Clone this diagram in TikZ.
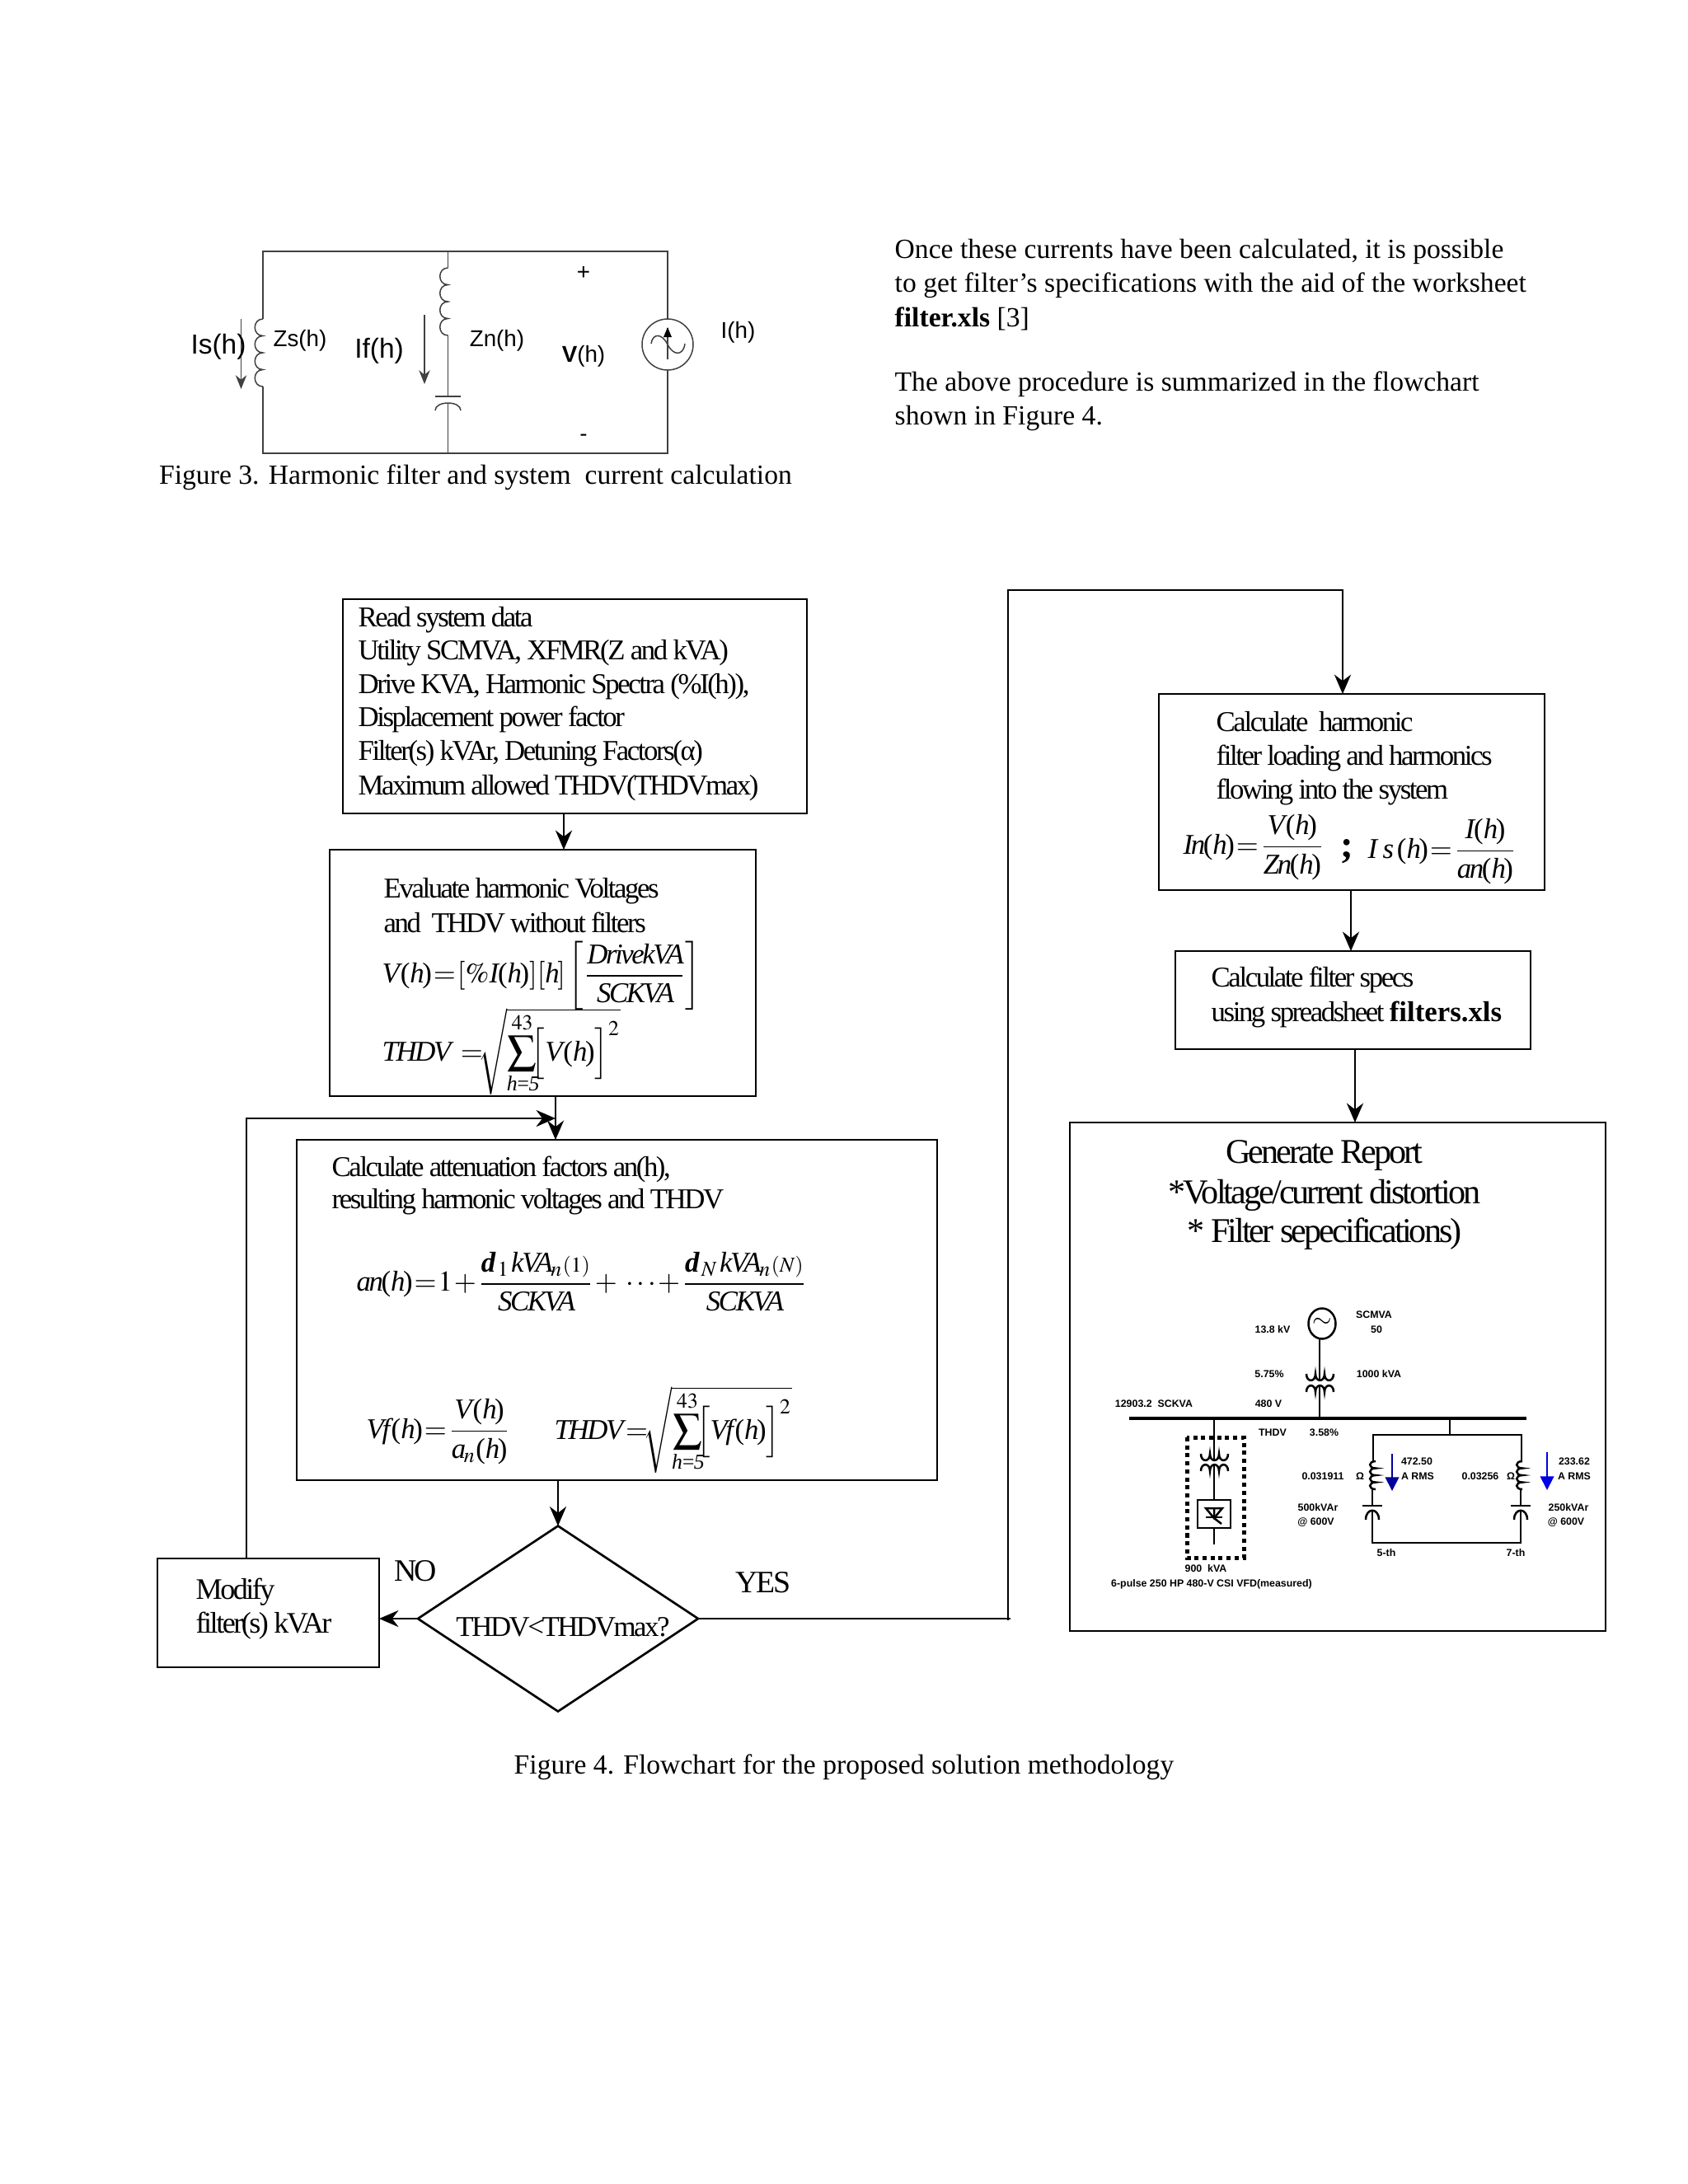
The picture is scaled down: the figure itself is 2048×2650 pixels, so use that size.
\documentclass[tikz,border=0pt]{standalone}
\usepackage{amsmath}
\usepackage{mathptmx}
\usepackage{fontspec}
\setmainfont{Liberation Serif}
\setsansfont{Liberation Sans}
\newfontfamily\flowfont[LetterSpace=-7]{Liberation Serif}
\usetikzlibrary{shapes.geometric, arrows.meta}
\newcommand{\px}{0.2988pt}
\newcommand{\mi}[1]{\text{\flowfont\textit{#1}}}
\newcommand{\hpar}{\text{\flowfont(\textit{h})}}
\tikzset{
  wire/.style={line width=0.45pt, black!75},
  flow/.style={line width=0.8pt, -{Stealth[length=7pt,width=6pt]}},
  inset/.style={line width=0.75pt},
  flowbox/.style={draw, line width=0.8pt, inner sep=0pt, outer sep=0pt},
  body/.style={font=\fontsize{10.05}{12.1}\selectfont, align=left, anchor=west, inner sep=0pt, yshift=-1pt},
  flowtext/.style={font=\fontsize{10.4}{12.1}\selectfont\flowfont, align=left, anchor=west, inner sep=0pt, yshift=-1pt},
  reporttext/.style={font=\fontsize{12.6}{14}\selectfont\flowfont, inner sep=0pt, yshift=-1pt},
  flowmath/.style={font=\fontsize{10.4}{12.1}\selectfont, anchor=west, inner sep=0pt, execute at begin node={\thickmuskip=1mu\medmuskip=1mu}},
  circlabel/.style={font=\fontsize{8.3}{10}\selectfont\sffamily, inner sep=0pt},
  biglabel/.style={font=\fontsize{10}{12}\selectfont\sffamily, inner sep=0pt, yshift=-0.8pt},
  lbl/.style={font=\fontsize{3.7}{4.5}\selectfont\sffamily\bfseries, inner sep=0pt},
  coilv/.pic={\draw (0,0) .. controls (-13,0) and (-13,20.5) .. (0,20.5)
    .. controls (-13,20.5) and (-13,41) .. (0,41)
    .. controls (-13,41) and (-13,61.5) .. (0,61.5)
    .. controls (-13,61.5) and (-13,82) .. (0,82);},
  coilh/.pic={\draw (0,0) .. controls (0,10.5) and (11,10.5) .. (11,0)
    .. controls (11,10.5) and (22,10.5) .. (22,0)
    .. controls (22,10.5) and (33,10.5) .. (33,0);}
}
\begin{document}
\begin{tikzpicture}[x=0.2988pt, y=-0.2988pt]
  \useasboundingbox (0,0) rectangle (2048,2650);
  % Figure 3 - circuit frame
  \draw[wire] (319,387) -- (319,305) -- (810,305) -- (810,387);
  \draw[wire] (810,449) -- (810,550) -- (319,550) -- (319,469);
  % filter branch
  \draw[wire] (543.5,305) -- (543.5,325);
  \pic[wire] at (543.5,325) {coilv};
  \pic[wire] at (319,387) {coilv};
  \draw[wire] (543.5,407) -- (543.5,481);
  \draw[wire] (528,481) -- (559,481);
  \draw[wire] (528,498) .. controls (528,486) and (559,486) .. (559,498);
  \draw[wire] (543.5,489) -- (543.5,550);
  % current source
  \node[draw, circle, wire, minimum size=62*\px, inner sep=0pt] (source) at (810,418) {};
  \draw[wire] (810,436) -- (810,398);
  \fill (810,397) -- (805,409) -- (815,409) -- cycle;
  \draw[wire] (790,417) .. controls (792,404) and (803,404) .. (810,418) .. controls (817,432) and (829,432) .. (831,417);
  % current arrows
  \coordinate (istop) at (292.5,387);
  \coordinate (isend) at (292.5,472);
  \coordinate (iftop) at (515,382);
  \coordinate (ifend) at (515,466);
  \draw[wire, -{Stealth[length=5pt,width=4pt]}] (istop) -- (isend);
  \draw[wire, -{Stealth[length=5pt,width=4pt]}] (iftop) -- (ifend);
  % circuit labels
  \node[biglabel] (islabel) at (265,418) {Is(h)};
  \node[circlabel] (zslabel) at (364,413) {Zs(h)};
  \node[biglabel] (iflabel) at (460,423) {If(h)};
  \node[circlabel] (znlabel) at (603,413) {Zn(h)};
  \node[circlabel] (vlabel) at (708,432) {\textbf{V}(h)};
  \node[circlabel] (ilabel) at (895.5,403) {I(h)};
  \node[circlabel] (plus) at (708,331) {+};
  \node[circlabel] (minus) at (708,531) {-};
  \node[body, anchor=center] (figthree) at (577,576) {Figure 3. Harmonic filter and system\ \ current calculation};
  % Text at the right
  \node[body] (textone) at (1085,302) {Once these currents have been calculated, it is possible};
  \node[body] (texttwo) at (1085,343) {to get filter's specifications with the aid of the worksheet};
  \node[body] (textthree) at (1085,384) {\textbf{filter.xls} [3]};
  \node[body] (textfour) at (1085,463) {The above procedure is summarized in the flowchart};
  \node[body] (textfive) at (1085,504) {shown in Figure 4.};
  % read data
  \node[flowbox, minimum width=563*\px, minimum height=260*\px] (readbox) at (697.5,857) {};
  \node[flowtext] (readone) at (434,749) {Read system data};
  \node[flowtext] (readtwo) at (434,789) {Utility SCMVA, XFMR(Z and kVA)};
  \node[flowtext] (readthree) at (434,830) {Drive KVA, Harmonic Spectra (\%I(h)),};
  \node[flowtext] (readfour) at (434,870) {Displacement power factor};
  \node[flowtext] (readfive) at (434,911) {Filter(s) kVAr, Detuning Factors(α)};
  \node[flowtext] (readsix) at (434,953) {Maximum allowed THDV(THDVmax)};
  % evaluate without filters
  \node[flowbox, minimum width=517*\px, minimum height=299*\px] (evalbox) at (658.5,1180.5) {};
  \node[flowtext] (evalone) at (465,1078) {Evaluate harmonic Voltages};
  \node[flowtext] (evaltwo) at (465,1116) {and\ \ THDV without filters};
  \node[flowmath] (evalv) at (463,1184) {$\mi{V}\hpar=[\%\mi{I}\hpar][\mi{h}]\left[\dfrac{\mi{DrivekVA}}{\mi{SCKVA}}\right]$};
  \node[flowmath] (evalthd) at (463,1276) {$\mi{THDV}\ =\!\!\sqrt{\displaystyle\sum_{\mi{h=5}}^{43}\!\!\Bigl[\mi{V}\hpar\Bigr]^{2}}$};
  % attenuation factors
  \node[flowbox, minimum width=777*\px, minimum height=413*\px] (attbox) at (748.5,1589.5) {};
  \node[flowtext] (attone) at (402,1416) {Calculate attenuation factors an(h),};
  \node[flowtext] (atttwo) at (402,1455) {resulting harmonic voltages and THDV};
  \node[flowmath] (attan) at (432,1555) {$\mi{an}\hpar=1+\dfrac{\textbf{\textit{d}}\;{}_{1}\;\mi{kVA}_{n}{\scriptstyle(1)}}{\mi{SCKVA}}+\ \cdots+\dfrac{\textbf{\textit{d}}\;{}_{N}\;\mi{kVA}_{n}{\scriptstyle(N)}}{\mi{SCKVA}}$};
  \node[flowmath] (attvf) at (444,1737) {$\mi{Vf}\hpar=\dfrac{\mi{V}\hpar}{\mi{a}_{n}\hpar}$};
  \node[flowmath] (attthd) at (672,1735) {$\mi{THDV}=\!\!\sqrt{\displaystyle\sum_{\mi{h=5}}^{43}\!\!\Bigl[\mi{Vf}\hpar\Bigr]^{2}}$};
  % decision
  \node[draw, diamond, line width=0.8pt, aspect=1.51, minimum width=340*\px, minimum height=225*\px, inner sep=0pt, outer sep=0pt] (check) at (677,1964) {};
  \node[flowtext, anchor=center] (checktext) at (683,1971) {THDV<THDVmax?};
  \node[flowtext, anchor=center, font=\fontsize{11.3}{12.1}\selectfont\flowfont] (nolabel) at (504,1903) {NO};
  \node[flowtext, anchor=center, font=\fontsize{11.3}{12.1}\selectfont\flowfont] (yeslabel) at (926,1917) {YES};
  % modify
  \node[flowbox, minimum width=269*\px, minimum height=132*\px] (modifybox) at (325.5,1957) {};
  \node[flowtext, font=\fontsize{10.8}{12.1}\selectfont\flowfont] (modifyone) at (237,1928) {Modify};
  \node[flowtext, font=\fontsize{10.8}{12.1}\selectfont\flowfont] (modifytwo) at (237,1969) {filter(s) kVAr};
  % harmonic loading
  \node[flowbox, minimum width=468*\px, minimum height=238*\px] (calcbox) at (1640,961) {};
  \node[flowtext] (calcone) at (1475,872) {Calculate\ \ harmonic};
  \node[flowtext] (calctwo) at (1475,917) {filter loading and harmonics};
  \node[flowtext] (calcthree) at (1475,958) {flowing into the system};
  \node[flowmath] (calcin) at (1435,1028) {$\mi{In}\hpar=\dfrac{\mi{V}\hpar}{\mi{Zn}\hpar}$};
  \node[font=\fontsize{14}{14}\selectfont\bfseries, inner sep=0pt] (calcsemi) at (1634,1033) {;};
  \node[flowmath] (calcis) at (1659,1033) {$\mi{I\ s\ }\hpar=\dfrac{\mi{I}\hpar}{\mi{an}\hpar}$};
  % specs
  \node[flowbox, minimum width=431*\px, minimum height=119*\px] (specbox) at (1641.5,1213.5) {};
  \node[flowtext] (specone) at (1469,1186) {Calculate filter specs};
  \node[flowtext] (spectwo) at (1469,1228) {using spreadsheet {\rmfamily\bfseries filters.xls}};
  % report
  \node[flowbox, minimum width=650*\px, minimum height=617*\px] (reportbox) at (1623,1670.5) {};
  \node[reporttext] (reportone) at (1607,1399) {Generate Report};
  \node[reporttext] (reporttwo) at (1607,1447) {*Voltage/current distortion};
  \node[reporttext] (reportthree) at (1607,1494) {* Filter sepecifications)};
  % Arrows
  \coordinate (firstx) at (684,1000);
  \coordinate (secondx) at (674,1357);
  \coordinate (loopx) at (299,1357);
  \coordinate (overrun) at (1226,1964);
  \coordinate (upright) at (1223,1966);
  \coordinate (upleft) at (1223,716);
  \coordinate (upend) at (1629,716);
  \coordinate (specx) at (1639,1100);
  \coordinate (reportx) at (1644,1300);
  \draw[flow] (readbox.south -| firstx) -- (evalbox.north -| firstx);
  \draw[flow] (evalbox.south -| secondx) -- (attbox.north -| secondx);
  \draw[flow] (attbox.south -| check.north) -- (check.north);
  \draw[flow] (check.west) -- (check.west -| modifybox.east);
  \draw[flow] (modifybox.north -| loopx) -- (loopx) -- (secondx);
  \draw[line width=0.8pt] (check.east) -- (overrun);
  \draw[flow] (upright) -- (upleft) -- (upend) -- (calcbox.north -| upend);
  \draw[flow] (calcbox.south -| specx) -- (specbox.north -| specx);
  \draw[flow] (specbox.south -| reportx) -- (reportbox.north -| reportx);
  % Inset - supply
  \node[draw, ellipse, inset, minimum width=33*\px, minimum height=37*\px, inner sep=0pt] (gen) at (1604,1606) {};
  \node[inner sep=0pt, font=\fontsize{9}{9}\selectfont] (gentilde) at (1604,1605) {$\sim$};
  \coordinate (stem) at (1601,1624);
  \coordinate (stemcoil) at (1601,1675);
  \coordinate (stemlow) at (1601,1681);
  \coordinate (stembus) at (1601,1721);
  \draw[inset] (stem) -- (stemcoil);
  \draw[inset] (stemlow) -- (stembus);
  \pic[inset] at (1585,1667) {coilh};
  \pic[inset, yscale=-1] at (1585,1689) {coilh};
  % Inset - bus
  \draw[line width=1pt] (1370,1721) -- (1852,1721);
  % Inset - drive
  \draw[inset] (1473,1721) -- (1473,1772);
  \pic[inset] at (1457,1764) {coilh};
  \pic[inset, yscale=-1] at (1457,1785) {coilh};
  \draw[inset] (1473,1777) -- (1473,1820);
  \node[draw, inset, minimum width=40*\px, minimum height=34*\px, inner sep=0pt, outer sep=0pt] (drive) at (1473,1837) {};
  \draw[inset] (drive.south) -- (1473,1874);
  \draw[inset] (1463,1830) -- (1483,1830) -- (1473,1842) -- cycle;
  \draw[inset] (1463,1841) -- (1483,1841);
  \draw[inset] (1473,1830) -- (1473,1842) -- (1482,1849);
  \draw[line width=1.5pt, dash pattern=on 1.5pt off 1.4pt] (1440,1744) rectangle (1509,1890);
  % Inset - filters
  \draw[inset] (1759,1721) -- (1759,1741);
  \draw[inset] (1666,1773) -- (1666,1741) -- (1846,1741) -- (1846,1773);
  \pic[inset, xscale=0.7, yscale=0.415] at (1669,1773) {coilv};
  \pic[inset, xscale=0.7, yscale=0.415] at (1847,1773) {coilv};
  \draw[inset] (1665,1807) -- (1665,1827);
  \draw[inset] (1845,1807) -- (1845,1827);
  \draw[inset] (1653,1827) -- (1677,1827);
  \draw[inset] (1833,1827) -- (1857,1827);
  \draw[inset] (1657,1844) .. controls (1657,1829) and (1673,1829) .. (1673,1844);
  \draw[inset] (1837,1844) .. controls (1837,1829) and (1853,1829) .. (1853,1844);
  \draw[inset] (1665,1834) -- (1665,1872) -- (1845,1872) -- (1845,1834);
  \coordinate (blueonetop) at (1689,1764);
  \coordinate (blueoneend) at (1689,1809);
  \coordinate (bluetwotop) at (1877,1762);
  \coordinate (bluetwoend) at (1877,1808);
  \draw[line width=0.55pt, blue!60!black, -{Triangle[length=5pt,width=5pt]}] (blueonetop) -- (blueoneend);
  \draw[line width=0.55pt, blue!90!black, -{Triangle[length=5pt,width=5pt]}] (bluetwotop) -- (bluetwoend);
  % Inset labels
  \node[lbl] (lblkv) at (1544,1613) {13.8 kV};
  \node[lbl] (lblscmva) at (1667,1595) {SCMVA};
  \node[lbl] (lblfifty) at (1670,1613) {50};
  \node[lbl] (lblimp) at (1540,1667) {5.75\%};
  \node[lbl] (lblkva) at (1673,1667) {1000 kVA};
  \node[lbl] (lblv) at (1539,1703) {480 V};
  \node[lbl] (lblsckva) at (1400,1703) {12903.2\ \ SCKVA};
  \node[lbl] (lblthdv) at (1544,1738) {THDV};
  \node[lbl] (lblpct) at (1606.5,1738) {3.58\%};
  \node[lbl] (lblampone) at (1719,1773) {472.50};
  \node[lbl] (lblrmsone) at (1720,1791) {A RMS};
  \node[lbl] (lblzone) at (1605,1791) {0.031911};
  \node[lbl] (lblohmone) at (1650,1791) {Ω};
  \node[lbl] (lblztwo) at (1796,1791) {0.03256};
  \node[lbl] (lblohmtwo) at (1833,1791) {Ω};
  \node[lbl] (lblamptwo) at (1910,1773) {233.62};
  \node[lbl] (lblrmstwo) at (1910,1791) {A RMS};
  \node[lbl] (lblkvarone) at (1599,1829) {500kVAr};
  \node[lbl] (lblvone) at (1596.5,1847) {@ 600V};
  \node[lbl] (lblkvartwo) at (1903,1829) {250kVAr};
  \node[lbl] (lblvtwo) at (1900,1847) {@ 600V};
  \node[lbl] (lblfive) at (1682,1884) {5-th};
  \node[lbl] (lblseven) at (1839,1884) {7-th};
  \node[lbl] (lbldrive) at (1463,1903) {900\ \ kVA};
  \node[lbl] (lblvfd) at (1470,1922) {6-pulse 250 HP 480-V CSI VFD(measured)};
  % Caption
  \node[body, anchor=center] (figfour) at (1024,2141) {Figure 4. Flowchart for the proposed solution methodology};
\end{tikzpicture}
\end{document}
